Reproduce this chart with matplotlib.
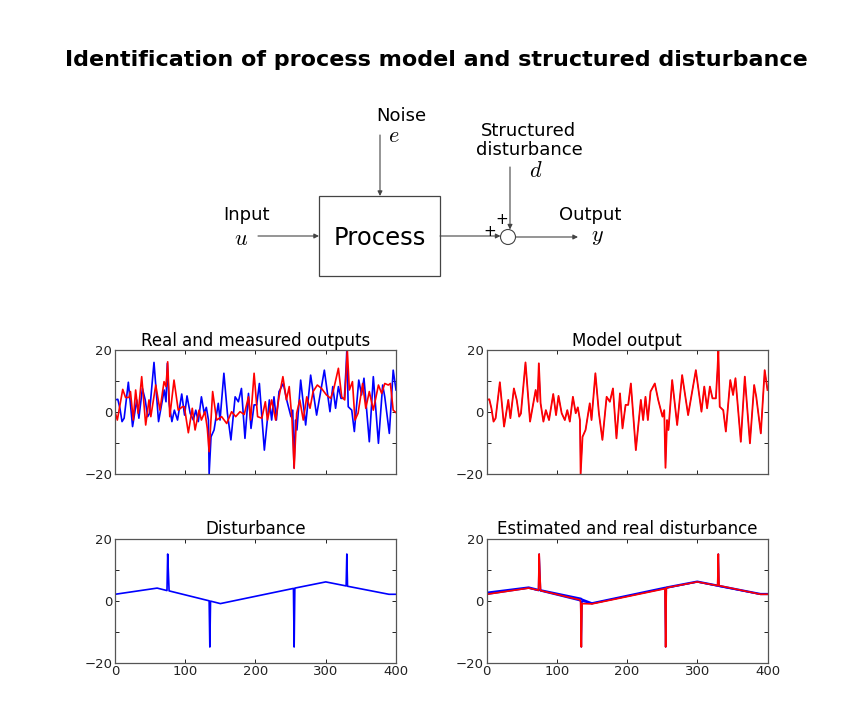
import numpy as np
import matplotlib
matplotlib.use('Agg')
import matplotlib.pyplot as plt
from matplotlib.patches import Rectangle, Circle

plt.rcParams['mathtext.fontset'] = 'cm'

model_t = [0, 4, 7, 10, 13, 19, 25, 31, 34, 39, 43, 46.5, 49, 55.5, 62, 70, 72.6, 74.5, 77, 81,
           84.5, 89, 95, 99, 102.5, 107, 111.5, 115, 118.6, 123, 127, 130, 133, 134, 136.7, 141,
           147, 149.5, 155, 160, 165, 171, 175.6, 180, 185, 190, 193.6, 198, 201.7, 205.5, 212.6,
           219.7, 223, 226.3, 229.7, 233.5, 239.6, 244.4, 250.5, 253, 254.8, 257, 259, 264.3,
           271.4, 278.5, 287, 298, 306, 310, 314, 318, 321.7, 326.5, 329, 330, 332, 337, 340.7,
           347, 351, 354.4, 362, 367.7, 375, 381, 384, 390.5, 396, 400]
model_y = [3.9, 4.1, 1.2, -3.1, -2.0, 9.6, -4.7, 3.9, -2.0, 7.6, 3.9, -1.5, -0.5, 16.0, -3.1, 7.1,
           3.3, 15.7, 2.8, -3.1, 0.6, -2.6, 5.8, -1.0, 5.2, -0.4, -2.6, 0.6, -3.1, 4.9, -0.4, 1.5,
           -2.6, -20.0, -8.0, -5.8, 2.8, -2.6, 12.5, -0.4, -9.0, 4.9, 3.3, 7.6, -8.5, 6.0, -5.3,
           2.3, 2.3, 9.2, -12.3, 3.9, -2.6, 4.9, -2.6, 6.6, 9.2, 3.9, -1.5, 0.6, -18.0, -2.6,
           -5.8, 10.3, -4.2, 11.9, -1.0, 13.5, 0.1, 8.2, 1.2, 8.2, 4.4, 4.4, 14.6, 20.0, 1.7, 0.6,
           -6.3, 10.3, 5.5, 10.9, -9.6, 11.4, -10.1, 8.7, 4.9, -6.9, 13.5, 7.1]

# real output (red curve of the first panel)
real_t = [0, 3.3, 11, 15, 20, 22, 26, 29.4, 33, 38, 43.7, 48.4, 51, 58, 64, 69.8, 72.6, 75, 78,
          84, 90, 96, 98.7, 104.4, 110, 114, 119.6, 123, 128, 131.4, 134, 139, 144.7, 151.8,
          159, 166, 171.8, 178, 184, 190, 193, 198, 203, 209, 214, 217, 223, 228.7, 233.5, 239,
          244, 248, 252, 255, 258.6, 263, 268, 273, 277.6, 282, 288, 294, 301, 307, 311, 318,
          322.7, 327, 330.7, 333.6, 338, 341.6, 346, 352.5, 357, 362, 367.7, 375, 379.6, 384,
          389, 392, 396, 400]
real_y = [0.1, -2.6, 7.3, 4.7, 4.7, 6.6, -2.6, 7.1, -0.4, 11.4, -4.2, 3.9, -1.5, 8.7, 0.6, 9.8,
          8.2, 16.2, -1.5, 10.3, 0.6, 1.7, 1.7, -6.7, 1.2, -5.8, 0.6, -2.6, 0.1, -5.3, -12.8, 6.6,
          -2.6, -1.5, -3.7, 0.1, -1.5, 0.1, -0.8, 4.9, -2.6, 12.5, -1.5, -2.0, 3.3, -2.6, 3.9,
          -2.6, 4.9, 11.4, 3.9, 8.2, -2.6, -18.2, -0.4, 3.9, -2.6, 4.9, 1.2, 6.6, 8.7, 7.6, 5.5,
          4.4, 7.1, 14.1, 4.9, 3.9, 20.0, 7.1, 9.8, -2.6, -0.4, 9.2, 1.2, 6.6, 0.6, 8.7, 6.0, 9.2,
          8.7, 9.2, 0.6, -0.2]

# structured disturbance: ramps with four pulses
dist_t = [0, 60, 74, 75, 76, 77, 134, 135, 136, 150, 254, 255, 256, 300, 329, 330, 331, 390, 400]
dist_y = [2.0, 4.0, 3.2, 15.0, 9.0, 3.1, -0.1, -15.0, -0.2, -1.0, 3.9, -15.0, 4.0, 6.0, 4.7,
          15.0, 4.6, 2.0, 2.0]
real_dist_y = [2.5, 4.2, 3.4, 3.4, 3.4, 3.3, 0.6, 0.5, 0.3, -0.9, 4.1, 4.1, 4.2, 6.1, 4.8,
               4.8, 4.7, 2.1, 2.1]

# estimated disturbance
est_t = [0, 60, 74, 75, 76, 77, 133, 134, 135, 136, 150, 180, 254, 255, 256, 300, 329, 330,
         331, 390, 400]
est_y = [2.0, 4.0, 3.3, 15.0, 8.5, 3.2, 0.2, -0.5, -15.0, -1.0, -1.1, 0.3, 3.8, -15.0, 4.1,
         6.0, 4.8, 15.0, 4.8, 2.0, 2.0]

fig = plt.figure(figsize=(8.5, 7.05), dpi=100)

# block diagram drawn in pixel coordinates
dg = fig.add_axes([0, 0, 1, 1])
dg.set_xlim(0, 850)
dg.set_ylim(705, 0)
dg.axis('off')

dg.text(436, 60, 'Identification of process model and structured disturbance',
        ha='center', va='center', fontsize=16, fontweight='bold')

lc = '#444444'
arr = dict(arrowstyle='-|>', lw=0.8, color=lc, mutation_scale=7, shrinkA=0, shrinkB=0)
dg.add_patch(Rectangle((319, 196), 121, 80, fill=False, ec=lc, lw=0.9))
dg.text(380, 238, 'Process', ha='center', va='center', fontsize=17.5)
dg.annotate('', xy=(319, 236), xytext=(258, 236), arrowprops=arr)
dg.text(247, 215, 'Input', ha='center', va='center', fontsize=13)
dg.text(241, 239, '$u$', ha='center', va='center', fontsize=16)
dg.annotate('', xy=(380, 196), xytext=(380, 135), arrowprops=arr)
dg.text(401, 116, 'Noise', ha='center', va='center', fontsize=13)
dg.text(394, 136, '$e$', ha='center', va='center', fontsize=16)
dg.add_patch(Circle((508, 237), 7.5, fill=False, ec=lc, lw=0.8))
dg.annotate('', xy=(500.5, 236), xytext=(440, 236), arrowprops=arr)
dg.annotate('', xy=(510, 229.5), xytext=(510, 167), arrowprops=arr)
dg.annotate('', xy=(578, 237), xytext=(515.5, 237), arrowprops=arr)
dg.text(490, 231, '+', ha='center', va='center', fontsize=11)
dg.text(502, 219, '+', ha='center', va='center', fontsize=11)
dg.text(528, 131, 'Structured', ha='center', va='center', fontsize=13)
dg.text(529, 150, 'disturbance', ha='center', va='center', fontsize=13)
dg.text(536, 171, '$d$', ha='center', va='center', fontsize=16)
dg.text(590, 215, 'Output', ha='center', va='center', fontsize=13)
dg.text(597, 237, '$y$', ha='center', va='center', fontsize=16)

W, H = 281 / 850, 124 / 705
boxes = {
    'tl': [115 / 850, 231 / 705, W, H],
    'tr': [486.5 / 850, 231 / 705, W, H],
    'bl': [115 / 850, 42.5 / 705, W, H],
    'br': [486.5 / 850, 42.5 / 705, W, H],
}


def style(ax, title, xlabels):
    ax.set_xlim(0, 400)
    ax.set_ylim(-20, 20)
    ax.set_xticks([0, 100, 200, 300, 400])
    ax.set_yticks([-20, -10, 0, 10, 20])
    ax.set_yticklabels(['\u221220', '', '0', '', '20'])
    if xlabels:
        ax.set_xticklabels(['0', '100', '200', '300', '400'])
    else:
        ax.set_xticklabels([])
    ax.tick_params(direction='in', top=True, right=True, length=3, width=0.7,
                   labelsize=9.5, colors='#222222', pad=2)
    for s in ax.spines.values():
        s.set_color('#555555')
        s.set_linewidth(0.9)
    ax.set_title(title, fontsize=12, pad=3)


ax = fig.add_axes(boxes['tl'])
ax.plot(model_t, model_y, color='blue', lw=1.2)
ax.plot(real_t, real_y, color='red', lw=1.2)
style(ax, 'Real and measured outputs', False)

ax = fig.add_axes(boxes['tr'])
ax.plot(model_t, model_y, color='blue', lw=0.6)
ax.plot(model_t, model_y, color='red', lw=1.3)
style(ax, 'Model output', False)

ax = fig.add_axes(boxes['bl'])
ax.plot(dist_t, dist_y, color='blue', lw=1.2)
style(ax, 'Disturbance', True)

ax = fig.add_axes(boxes['br'])
ax.plot(dist_t, real_dist_y, color='blue', lw=1.6)
ax.plot(dist_t, dist_y, color='blue', lw=1.1)
ax.plot(est_t, est_y, color='red', lw=1.2)
style(ax, 'Estimated and real disturbance', True)

fig.savefig('out.png', dpi=100)
